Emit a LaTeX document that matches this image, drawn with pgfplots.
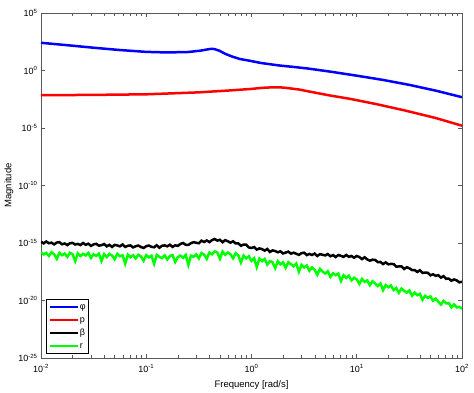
\documentclass[border=0pt]{standalone}
\usepackage{fontspec}
\setmainfont{Liberation Sans}
\usepackage{pgfplots}
\usepackage{pgfplotstable}
\pgfplotsset{compat=1.18}

% columns: lf = log10(frequency), lm = log10(magnitude)
\pgfplotstableread{
lf lm
-2.00 2.41
-1.75 2.20
-1.50 1.98
-1.25 1.78
-1.00 1.62
-0.80 1.57
-0.60 1.61
-0.49 1.72
-0.42 1.83
-0.38 1.89
-0.35 1.86
-0.30 1.70
-0.25 1.45
-0.18 1.20
-0.11 1.00
0.00 0.82
0.08 0.67
0.18 0.54
0.27 0.43
0.40 0.31
0.53 0.18
0.75 -0.10
1.00 -0.45
1.25 -0.82
1.50 -1.25
1.75 -1.75
2.00 -2.32
}\phitab

\pgfplotstableread{
lf lm
-2.00 -2.15
-1.50 -2.12
-1.00 -2.07
-0.50 -1.90
-0.20 -1.73
0.00 -1.60
0.10 -1.51
0.20 -1.46
0.30 -1.48
0.45 -1.65
0.60 -1.92
0.75 -2.18
0.94 -2.47
1.20 -2.95
1.46 -3.48
1.75 -4.13
2.00 -4.80
}\ptab

\pgfplotstableread{
lf lm
-2.000 -14.89
-1.975 -15.03
-1.950 -14.87
-1.925 -15.02
-1.900 -14.97
-1.875 -15.12
-1.850 -14.96
-1.825 -14.93
-1.800 -15.11
-1.775 -15.04
-1.750 -15.18
-1.725 -15.02
-1.700 -14.99
-1.675 -15.13
-1.650 -15.08
-1.625 -15.18
-1.600 -15.00
-1.575 -15.15
-1.550 -15.06
-1.525 -15.25
-1.500 -15.12
-1.475 -15.07
-1.450 -15.23
-1.425 -15.19
-1.400 -15.09
-1.375 -15.29
-1.350 -15.16
-1.325 -15.34
-1.300 -15.16
-1.275 -15.21
-1.250 -15.29
-1.225 -15.13
-1.200 -15.34
-1.175 -15.24
-1.150 -15.21
-1.125 -15.38
-1.100 -15.28
-1.075 -15.22
-1.050 -15.35
-1.025 -15.43
-1.000 -15.28
-0.975 -15.22
-0.950 -15.33
-0.925 -15.37
-0.900 -15.20
-0.875 -15.41
-0.850 -15.24
-0.825 -15.21
-0.800 -15.29
-0.775 -15.15
-0.750 -15.34
-0.725 -15.20
-0.700 -15.25
-0.675 -15.08
-0.650 -15.00
-0.625 -15.15
-0.600 -15.17
-0.575 -15.01
-0.550 -14.93
-0.525 -14.98
-0.500 -15.02
-0.475 -14.80
-0.450 -14.91
-0.425 -14.78
-0.400 -14.92
-0.375 -14.75
-0.350 -14.65
-0.325 -14.79
-0.300 -14.72
-0.275 -14.93
-0.250 -14.75
-0.225 -14.85
-0.200 -14.97
-0.175 -14.85
-0.150 -15.04
-0.125 -15.04
-0.100 -15.24
-0.075 -15.14
-0.050 -15.15
-0.025 -15.39
0.000 -15.43
0.025 -15.35
0.050 -15.57
0.075 -15.47
0.100 -15.53
0.125 -15.66
0.150 -15.52
0.175 -15.78
0.200 -15.64
0.225 -15.70
0.250 -15.81
0.275 -15.72
0.300 -15.91
0.325 -15.83
0.350 -15.75
0.375 -15.93
0.400 -15.84
0.425 -15.93
0.450 -16.03
0.475 -15.88
0.500 -15.84
0.525 -16.05
0.550 -15.95
0.575 -16.04
0.600 -15.92
0.625 -16.13
0.650 -15.97
0.675 -16.02
0.700 -16.08
0.725 -15.96
0.750 -16.15
0.775 -16.05
0.800 -16.22
0.825 -16.04
0.850 -16.12
0.875 -16.20
0.900 -16.04
0.925 -16.20
0.950 -16.13
0.975 -16.28
1.000 -16.13
1.025 -16.22
1.050 -16.40
1.075 -16.24
1.100 -16.43
1.125 -16.54
1.150 -16.45
1.175 -16.47
1.200 -16.66
1.225 -16.65
1.250 -16.83
1.275 -16.69
1.300 -16.85
1.325 -16.82
1.350 -16.83
1.375 -17.05
1.400 -17.04
1.425 -17.04
1.450 -17.26
1.475 -17.11
1.500 -17.20
1.525 -17.35
1.550 -17.35
1.575 -17.52
1.600 -17.37
1.625 -17.60
1.650 -17.57
1.675 -17.59
1.700 -17.81
1.725 -17.72
1.750 -17.85
1.775 -17.80
1.800 -18.01
1.825 -17.88
1.850 -18.11
1.875 -18.10
1.900 -18.28
1.925 -18.17
1.950 -18.25
1.975 -18.42
2.000 -18.37
}\betatab

\pgfplotstableread{
lf lm
-2.000 -15.80
-1.975 -15.99
-1.950 -15.86
-1.925 -16.12
-1.900 -15.80
-1.875 -15.98
-1.850 -16.38
-1.825 -15.86
-1.800 -16.06
-1.775 -15.92
-1.750 -16.20
-1.725 -15.85
-1.700 -15.98
-1.675 -16.57
-1.650 -15.90
-1.625 -16.13
-1.600 -15.94
-1.575 -16.08
-1.550 -15.86
-1.525 -16.30
-1.500 -15.98
-1.475 -16.12
-1.450 -15.93
-1.425 -16.57
-1.400 -15.97
-1.375 -16.22
-1.350 -15.95
-1.325 -16.09
-1.300 -16.41
-1.275 -15.95
-1.250 -16.15
-1.225 -16.07
-1.200 -16.79
-1.175 -16.02
-1.150 -16.24
-1.125 -16.06
-1.100 -16.34
-1.075 -16.02
-1.050 -16.17
-1.025 -16.54
-1.000 -16.06
-0.975 -16.25
-0.950 -16.11
-0.925 -16.80
-0.900 -16.03
-0.875 -16.21
-0.850 -16.31
-0.825 -16.08
-0.800 -16.43
-0.775 -16.13
-0.750 -16.05
-0.725 -16.65
-0.700 -16.23
-0.675 -16.09
-0.650 -16.29
-0.625 -16.04
-0.600 -16.90
-0.575 -16.10
-0.550 -16.20
-0.525 -15.99
-0.500 -16.34
-0.475 -15.87
-0.450 -16.02
-0.425 -16.38
-0.400 -15.83
-0.375 -15.98
-0.350 -15.73
-0.325 -15.82
-0.300 -16.37
-0.275 -15.75
-0.250 -16.03
-0.225 -15.83
-0.200 -15.98
-0.175 -16.33
-0.150 -15.89
-0.125 -16.09
-0.100 -16.70
-0.075 -16.09
-0.050 -16.34
-0.025 -16.15
0.000 -16.55
0.025 -16.32
0.050 -17.10
0.075 -16.36
0.100 -16.58
0.125 -16.39
0.150 -16.87
0.175 -16.57
0.200 -16.68
0.225 -17.19
0.250 -16.59
0.275 -16.85
0.300 -16.68
0.325 -17.15
0.350 -16.67
0.375 -16.84
0.400 -17.03
0.425 -16.79
0.450 -17.49
0.475 -16.90
0.500 -17.12
0.525 -16.96
0.550 -17.41
0.575 -17.13
0.600 -17.33
0.625 -17.76
0.650 -17.25
0.675 -17.48
0.700 -17.66
0.725 -17.46
0.750 -17.95
0.775 -17.63
0.800 -17.80
0.825 -17.66
0.850 -18.30
0.875 -17.80
0.900 -18.04
0.925 -17.84
0.950 -18.25
0.975 -18.02
1.000 -18.17
1.025 -18.55
1.050 -18.13
1.075 -18.38
1.100 -18.26
1.125 -18.67
1.150 -18.33
1.175 -18.52
1.200 -18.74
1.225 -18.52
1.250 -19.10
1.275 -18.66
1.300 -18.85
1.325 -18.69
1.350 -19.09
1.375 -18.91
1.400 -19.33
1.425 -18.96
1.450 -19.16
1.475 -19.32
1.500 -19.13
1.525 -19.58
1.550 -19.31
1.575 -19.54
1.600 -19.42
1.625 -19.94
1.650 -19.59
1.675 -19.77
1.700 -19.64
1.725 -20.02
1.750 -19.84
1.775 -20.10
1.800 -20.35
1.825 -20.03
1.850 -20.25
1.875 -20.23
1.900 -20.60
1.925 -20.34
1.950 -20.60
1.975 -20.55
2.000 -20.71
}\rtab

\definecolor{axgray}{gray}{0.35}

\begin{document}
\begin{tikzpicture}
\useasboundingbox (-41pt,-34pt) rectangle (433pt,358pt);
\begin{axis}[
  scale only axis, width=421pt, height=345pt,
  at={(0pt,0pt)}, anchor=south west,
  xmode=log, ymode=log,
  xmin=1e-2, xmax=1e2, ymin=1e-25, ymax=1e5,
  xtick={1e-2,1e-1,1,1e1,1e2},
  xticklabels={10\textsuperscript{-2},10\textsuperscript{-1},10\textsuperscript{0},10\textsuperscript{1},10\textsuperscript{2}},
  minor xtick={0.02,0.03,0.04,0.05,0.06,0.07,0.08,0.09,0.2,0.3,0.4,0.5,0.6,0.7,0.8,0.9,2,3,4,5,6,7,8,9,20,30,40,50,60,70,80,90},
  ytick={1e-25,1e-20,1e-15,1e-10,1e-5,1,1e5},
  yticklabels={10\textsuperscript{-25},10\textsuperscript{-20},10\textsuperscript{-15},10\textsuperscript{-10},10\textsuperscript{-5},10\textsuperscript{0},10\textsuperscript{5}},
  yminorticks=false,
  tick align=inside,
  major tick length=4pt, minor tick length=3pt,
  axis line style={axgray, line width=0.6pt},
  every tick/.style={axgray, line width=0.5pt},
  tick label style={font=\fontsize{9}{10}\selectfont},
  xticklabel style={yshift=-3pt},
  xlabel={Frequency [rad/s]}, ylabel={Magnitude},
  label style={font=\fontsize{9.5}{10}\selectfont},
  xlabel style={yshift=-1pt},
  ylabel style={yshift=-2pt},
  legend style={at={(0.012,0.012)}, anchor=south west, draw=black, line width=0.5pt,
    font=\fontsize{9}{10}\selectfont, inner sep=2pt, row sep=2pt,
    nodes={inner sep=1pt, text height=7pt, text depth=2pt}},
  legend cell align=left,
  legend image code/.code={\draw[#1] (0pt,0pt) -- (28pt,0pt);},
]
\addplot[blue, line width=2.5pt] table[x expr={10^(\thisrow{lf})}, y expr={10^(\thisrow{lm})}] {\phitab};
\addlegendentry{φ}
\addplot[red, line width=2.5pt] table[x expr={10^(\thisrow{lf})}, y expr={10^(\thisrow{lm})}] {\ptab};
\addlegendentry{p}
\addplot[black, line width=2.5pt] table[x expr={10^(\thisrow{lf})}, y expr={10^(\thisrow{lm})}] {\betatab};
\addlegendentry{β}
\addplot[green, line width=2.5pt] table[x expr={10^(\thisrow{lf})}, y expr={10^(\thisrow{lm})}] {\rtab};
\addlegendentry{r}
\end{axis}
\end{tikzpicture}
\end{document}
